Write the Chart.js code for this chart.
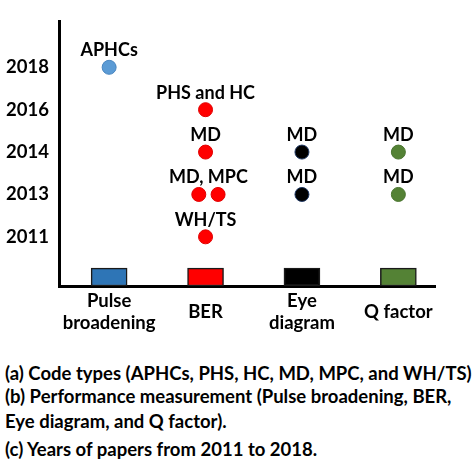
<!DOCTYPE html>
<html>
<head>
<meta charset="utf-8">
<script src="https://cdn.jsdelivr.net/npm/chart.js@4.4.0/dist/chart.umd.min.js"></script>
<style>
  html, body { margin: 0; padding: 0; background: #fff; }
  #wrap { position: relative; width: 474px; height: 474px; overflow: hidden; }
  #box { position: absolute; left: 0; top: 0; width: 474px; height: 350px; }
  .cap { position: absolute; left: 5px; font-family: Lato, sans-serif; font-weight: bold; font-size: 18.5px; color: #000; white-space: nowrap; line-height: 22px; }
</style>
</head>
<body>
<div id="wrap">
  <div id="box"><canvas id="c"></canvas></div>
  <div class="cap" id="capA" style="top:362px">(a) Code types (APHCs, PHS, HC, MD, MPC, and WH/TS)</div>
  <div class="cap" id="capB1" style="top:385px">(b) Performance measurement (Pulse broadening, BER,</div>
  <div class="cap" id="capB2" style="top:410px">Eye diagram, and Q factor).</div>
  <div class="cap" id="capC" style="top:438px">(c) Years of papers from 2011 to 2018.</div>
</div>
<script>
// ---- data ----
const categories = [['Pulse', 'broadening'], 'BER', ['Eye', 'diagram'], 'Q factor'];
const years = [2011, 2013, 2014, 2016, 2018];
const pointCategory = [0, 1, 1, 1, 1, 1, 2, 2, 3, 3];
const pointYear = [2018, 2016, 2014, 2013, 2013, 2011, 2014, 2013, 2014, 2013];
const pointCode = ['APHCs', 'PHS and HC', 'MD', 'MD', 'MPC', 'WH/TS', 'MD', 'MD', 'MD', 'MD'];

// ---- styles ----
const pointColors = ['#5B9BD5', '#FF0000', '#000000', '#548235'];
const pointBorders = ['#4A86C0', '#E00000', '#1F3864', '#4A7530'];
const barColors = ['#2E75B6', '#FF0000', '#000000', '#548235'];
const FONT = 'Lato';

// group points sharing category+year, spread them and join their labels
const groups = {};
pointCategory.forEach((c, i) => {
  const key = c + '_' + pointYear[i];
  (groups[key] = groups[key] || []).push(i);
});
const points = [];
const labels = [];
Object.values(groups).forEach(idx => {
  const c = pointCategory[idx[0]];
  const row = years.indexOf(pointYear[idx[0]]);
  const n = idx.length;
  idx.forEach((i, k) => {
    points.push({ x: c + (k - (n - 1) / 2) * 0.2 + (n > 1 ? 0.03 : 0), y: row, cat: c });
  });
  labels.push({ x: c + (n > 1 ? 0.03 : 0), y: row, text: idx.map(i => pointCode[i]).join(', ') });
});

const Y_MIN = -1.16, Y_MAX = 5.09, BAR_TOP = -0.74;

const labelPlugin = {
  id: 'pointLabels',
  afterDatasetsDraw(chart) {
    const ctx = chart.ctx;
    const xs = chart.scales.x, ys = chart.scales.y;
    ctx.save();
    ctx.font = 'bold 18px ' + FONT;
    ctx.fillStyle = '#000';
    ctx.textAlign = 'center';
    ctx.textBaseline = 'alphabetic';
    labels.forEach(l => {
      ctx.fillText(l.text, xs.getPixelForValue(l.x), ys.getPixelForValue(l.y) - 11);
    });
    ctx.restore();
  }
};

new Chart(document.getElementById('c'), {
  data: {
    datasets: [
      {
        type: 'bar',
        data: categories.map((c, i) => ({ x: i, y: [Y_MIN, BAR_TOP] })),
        backgroundColor: barColors,
        borderColor: '#1a1a1a',
        borderWidth: 1.5,
        borderSkipped: false,
        barThickness: 36,
        order: 2
      },
      {
        type: 'scatter',
        data: points,
        backgroundColor: points.map(p => pointColors[p.cat]),
        borderColor: points.map(p => pointBorders[p.cat]),
        borderWidth: 1,
        pointRadius: 7,
        pointHoverRadius: 7,
        order: 1
      }
    ]
  },
  options: {
    responsive: true,
    maintainAspectRatio: false,
    animation: false,
    events: [],
    layout: { padding: { top: 16, right: 39, left: 0, bottom: 0 } },
    plugins: { legend: { display: false }, tooltip: { enabled: false } },
    scales: {
      x: {
        type: 'linear',
        offset: false,
        min: -0.52,
        max: 3.38,
        afterBuildTicks: s => { s.ticks = categories.map((c, i) => ({ value: i })); },
        afterFit: s => { s.height = 64; },
        grid: { display: true, offset: false, color: 'rgba(0,0,0,0)', drawTicks: false },
        border: { display: true, color: '#000', width: 3 },
        ticks: {
          callback: v => categories[v],
          color: '#000',
          font: { family: FONT, weight: 'bold', size: 18.5, lineHeight: 1.2 },
          padding: 15,
          crossAlign: 'center',
          maxRotation: 0,
          autoSkip: false
        }
      },
      y: {
        type: 'linear',
        min: Y_MIN,
        max: Y_MAX,
        afterBuildTicks: s => { s.ticks = years.map((y, i) => ({ value: i })); },
        afterFit: s => { s.width = 59; },
        grid: { display: true, color: 'rgba(0,0,0,0)', drawTicks: false },
        border: { display: true, color: '#000', width: 3 },
        ticks: {
          callback: v => String(years[v]),
          color: '#000',
          font: { family: FONT, weight: 'bold', size: 18.5 },
          padding: 10,
          autoSkip: false
        }
      }
    }
  },
  plugins: [labelPlugin]
});
</script>
</body>
</html>
